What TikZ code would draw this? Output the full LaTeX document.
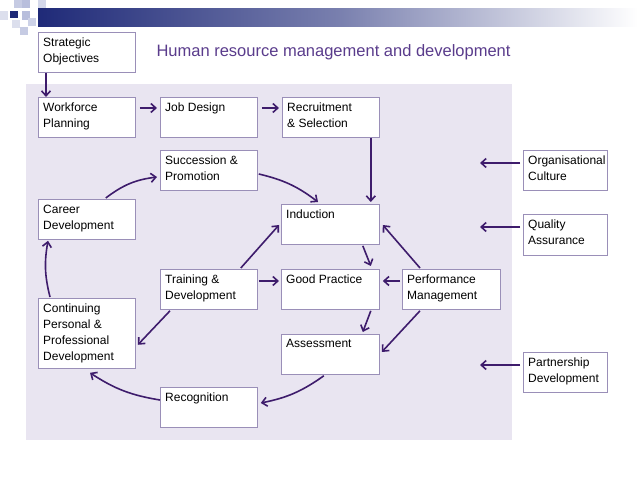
\documentclass[tikz,border=0pt]{standalone}
\usepackage{fontspec}
\setmainfont{Liberation Sans}
\usetikzlibrary{arrows.meta}
\definecolor{arr}{HTML}{3E1C6C}
\definecolor{panel}{HTML}{E9E5F1}
\definecolor{ttl}{HTML}{5A3C8C}
\definecolor{bord}{HTML}{9A8FB8}
\definecolor{navy}{HTML}{1F2A78}
\definecolor{sq}{HTML}{B8BEDC}
\begin{document}
\begin{tikzpicture}[x=1pt,y=-1pt,
  ar/.style={draw=arr,line width=1.6pt,-{Straight Barb[length=5pt,width=9pt,line width=1.6pt]}}]
\useasboundingbox (0,0) rectangle (638,478);
\fill[white] (0,0) rectangle (638,478);
% header decoration
\shade[left color=navy,right color=white,middle color=navy!60] (38,9) rectangle (638,27);
\fill[sq] (22,0) rectangle (30,8);
\fill[sq!60] (38,0) rectangle (46,8);
\fill[sq!80] (14,0) rectangle (22,8);
\fill[navy] (10,11) rectangle (18,18);
\fill[sq] (22,11) rectangle (30,20);
\fill[sq!70] (28,18) rectangle (36,26);
\fill[sq!50] (0,11) rectangle (8,20);
\fill[sq!80] (20,27) rectangle (28,35);
\fill[sq!50] (12,20) rectangle (20,28);
\fill[panel] (26,84) rectangle (512,440);
\node[anchor=west,text=ttl,font=\fontsize{16.5}{18}\selectfont] (title) at (153,52) {Human resource management and development};
\newcommand{\mk}[5]{\node[draw=bord,fill=white,line width=0.8pt,minimum width=#3,minimum height=#4,anchor=north west,inner sep=0pt] (#1) at #2 {};
  \node[anchor=north west,inner sep=0pt,align=left,font=\fontsize{12}{16}\selectfont] at ([shift={(5,5.5)}]#1.north west) {#5};}
\mk{so}{(38,32)}{97pt}{40pt}{Strategic\\Objectives}
\mk{wp}{(38,97)}{97pt}{40pt}{Workforce\\Planning}
\mk{jd}{(160,97)}{97pt}{40pt}{Job Design}
\mk{rs}{(282,97)}{97pt}{40pt}{Recruitment\\\& Selection}
\mk{sp}{(160,150)}{97pt}{40pt}{Succession \&\\Promotion}
\mk{cd}{(38,199)}{97pt}{40pt}{Career\\Development}
\mk{in}{(281,204)}{98pt}{40pt}{Induction}
\mk{td}{(160,269)}{97pt}{40pt}{Training \&\\Development}
\mk{gp}{(281,269)}{98pt}{40pt}{Good Practice}
\mk{pm}{(402,269)}{98pt}{40pt}{Performance\\Management}
\mk{cp}{(38,298)}{97pt}{70pt}{Continuing\\Personal \&\\Professional\\Development}
\mk{as}{(281,334)}{98pt}{40pt}{Assessment}
\mk{rc}{(160,387)}{97pt}{40pt}{Recognition}
\mk{oc}{(523,150)}{84pt}{40pt}{Organisational\\Culture}
\mk{qa}{(523,214)}{84pt}{41pt}{Quality\\Assurance}
\mk{pd}{(523,352)}{84pt}{40pt}{Partnership\\Development}
% connectors (y grows downward)
\draw[ar] ([xshift=8pt]so.south west) -- ([xshift=8pt]wp.north west);
\draw[ar] ([shift={(4,11)}]wp.north east) -- ([shift={(-3,11)}]jd.north west);
\draw[ar] ([shift={(4,11)}]jd.north east) -- ([shift={(-3,11)}]rs.north west);
\draw[ar] ([xshift=-9pt]rs.south east) -- ([shift={(-9,-2)}]in.north east);
\draw[ar] ([shift={(1,24)}]sp.north east) to[bend left=12] ([shift={(37,-2)}]in.north west);
\draw[ar] ([shift={(-30,-1)}]cd.north east) to[bend left=15] ([shift={(-3,27)}]sp.north west);
\draw[ar] ([shift={(12,-1)}]cp.north west) to[bend left=12] ([shift={(10,1)}]cd.south west);
\draw[ar] ([shift={(0,13)}]rc.north west) to[bend left=12] ([shift={(52,4)}]cp.south west);
\draw[ar] ([shift={(-56,1)}]as.south east) to[bend left=12] ([shift={(3,16)}]rc.north east);
\draw[ar] ([shift={(-17,-1)}]td.north east) -- ([shift={(-2,21)}]in.north west);
\draw[ar] ([shift={(1,12)}]td.north east) -- ([shift={(-2,12)}]gp.north west);
\draw[ar] ([shift={(10,1)}]td.south west) -- ([shift={(2,-24)}]cp.south east);
\draw[ar] ([shift={(-17,1)}]in.south east) -- ([shift={(-9,-3)}]gp.north east);
\draw[ar] ([shift={(-9,1)}]gp.south east) -- ([shift={(-17,-2)}]as.north east);
\draw[ar] ([shift={(-2,12)}]pm.north west) -- ([shift={(3,12)}]gp.north east);
\draw[ar] ([shift={(18,-1)}]pm.north west) -- ([shift={(3,21)}]in.north east);
\draw[ar] ([shift={(18,1)}]pm.south west) -- ([shift={(2,18)}]as.north east);
\coordinate (e1) at (480,163); \coordinate (e2) at (480,227); \coordinate (e3) at (480,365);
\draw[ar] ([shift={(-3,13)}]oc.north west) -- (e1);
\draw[ar] ([shift={(-3,13)}]qa.north west) -- (e2);
\draw[ar] ([shift={(-3,13)}]pd.north west) -- (e3);
\end{tikzpicture}
\end{document}
